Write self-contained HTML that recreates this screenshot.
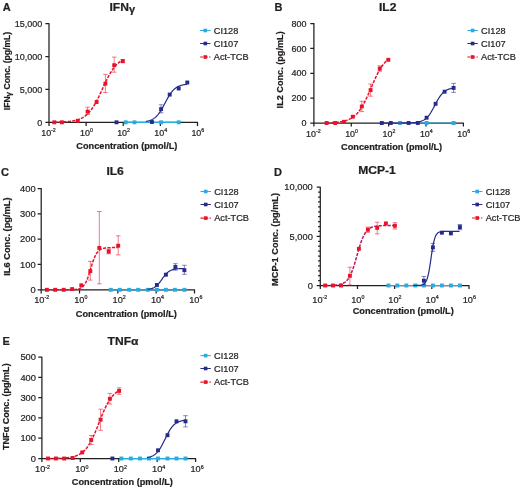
<!DOCTYPE html>
<html><head><meta charset="utf-8"><title>Figure</title>
<style>
html,body{margin:0;padding:0;background:#fff;}
svg{display:block;font-family:"Liberation Sans",sans-serif;fill:#231f20;}
text{stroke:#231f20;stroke-width:0.22px;}
</style></head><body>
<svg width="520" height="489" viewBox="0 0 520 489">
<rect width="520" height="489" fill="#fff"/>
<text x="2.80" y="11.00" font-size="11" text-anchor="start" font-weight="bold">A</text>
<text transform="translate(122.25,11.00) scale(1.07,1)" font-size="11.3" text-anchor="middle" font-weight="bold">IFN<tspan dy="1.6" font-size="10.3">γ</tspan></text>
<text x="42.30" y="125.50" font-size="9.0" text-anchor="end">0</text>
<text x="42.30" y="92.63" font-size="9.0" text-anchor="end">5,000</text>
<text x="42.30" y="59.77" font-size="9.0" text-anchor="end">10,000</text>
<text x="42.30" y="26.90" font-size="9.0" text-anchor="end">15,000</text>
<text x="48.50" y="136.00" font-size="8.9" text-anchor="middle">10<tspan font-size="5.3" dy="-3.7">-2</tspan></text>
<text x="86.42" y="136.00" font-size="8.9" text-anchor="middle">10<tspan font-size="5.3" dy="-3.7">0</tspan></text>
<text x="123.55" y="136.00" font-size="8.9" text-anchor="middle">10<tspan font-size="5.3" dy="-3.7">2</tspan></text>
<text x="160.68" y="136.00" font-size="8.9" text-anchor="middle">10<tspan font-size="5.3" dy="-3.7">4</tspan></text>
<text x="197.80" y="136.00" font-size="8.9" text-anchor="middle">10<tspan font-size="5.3" dy="-3.7">6</tspan></text>
<path d="M49.00,23.20V122.30H198.00M49.00,122.30h-3.6M49.00,89.43h-3.6M49.00,56.57h-3.6M49.00,23.70h-3.6M49.00,122.30v3.6M86.12,122.30v3.6M123.25,122.30v3.6M160.38,122.30v3.6M197.50,122.30v3.6" stroke="#231f20" stroke-width="1.25" fill="none"/>
<path d="M125.70,122.30 L178.70,122.30" stroke="#29abe2" stroke-width="1.2" fill="none"/>
<rect x="123.75" y="120.35" width="3.9" height="3.9" fill="#29abe2"/>
<rect x="132.55" y="120.35" width="3.9" height="3.9" fill="#29abe2"/>
<rect x="159.15" y="120.35" width="3.9" height="3.9" fill="#29abe2"/>
<rect x="176.75" y="120.35" width="3.9" height="3.9" fill="#29abe2"/>
<path d="M146.00,121.42 L146.50,121.33 L147.00,121.23 L147.50,121.12 L148.00,121.01 L148.50,120.88 L149.00,120.73 L149.50,120.58 L150.00,120.41 L150.50,120.22 L151.00,120.02 L151.50,119.80 L152.00,119.56 L152.50,119.30 L153.00,119.02 L153.50,118.71 L154.00,118.37 L154.50,118.01 L155.00,117.62 L155.50,117.20 L156.00,116.75 L156.50,116.26 L157.00,115.74 L157.50,115.19 L158.00,114.60 L158.50,113.97 L159.00,113.31 L159.50,112.62 L160.00,111.88 L160.50,111.12 L161.00,110.32 L161.50,109.49 L162.00,108.64 L162.50,107.76 L163.00,106.85 L163.50,105.93 L164.00,105.00 L164.50,104.06 L165.00,103.11 L165.50,102.16 L166.00,101.22 L166.50,100.29 L167.00,99.37 L167.50,98.46 L168.00,97.58 L168.50,96.72 L169.00,95.89 L169.50,95.09 L170.00,94.32 L170.50,93.59 L171.00,92.89 L171.50,92.23 L172.00,91.60 L172.50,91.00 L173.00,90.45 L173.50,89.93 L174.00,89.44 L174.50,88.98 L175.00,88.56 L175.50,88.17 L176.00,87.80 L176.50,87.47 L177.00,87.15 L177.50,86.87 L178.00,86.60 L178.50,86.36 L179.00,86.14 L179.50,85.94 L180.00,85.75 L180.50,85.58 L181.00,85.42 L181.50,85.28 L182.00,85.15 L182.50,85.03 L183.00,84.92 L183.50,84.82 L184.00,84.73 L184.50,84.65 L185.00,84.58 L185.50,84.51 L186.00,84.45 L186.50,84.39 L187.00,84.34" stroke="#262a8c" stroke-width="1.2" fill="none"/>
<path d="M161.10,104.80V112.80M158.80,104.80h4.6M158.80,112.80h4.6" stroke="#262a8c" stroke-width="0.75" stroke-opacity="0.75" fill="none"/>
<rect x="114.55" y="120.35" width="3.9" height="3.9" fill="#262a8c"/>
<rect x="149.95" y="120.05" width="3.9" height="3.9" fill="#262a8c"/>
<rect x="159.15" y="107.15" width="3.9" height="3.9" fill="#262a8c"/>
<rect x="167.75" y="92.65" width="3.9" height="3.9" fill="#262a8c"/>
<rect x="176.75" y="86.55" width="3.9" height="3.9" fill="#262a8c"/>
<rect x="185.35" y="80.55" width="3.9" height="3.9" fill="#262a8c"/>
<path d="M54.30,122.18 L54.80,122.17 L55.30,122.16 L55.80,122.15 L56.30,122.14 L56.80,122.13 L57.30,122.12 L57.80,122.10 L58.30,122.09 L58.80,122.08 L59.30,122.06 L59.80,122.05 L60.30,122.03 L60.80,122.01 L61.30,121.99 L61.80,121.97 L62.30,121.95 L62.80,121.92 L63.30,121.90 L63.80,121.87 L64.30,121.84 L64.80,121.81 L65.30,121.78 L65.80,121.75 L66.30,121.71 L66.80,121.67 L67.30,121.63 L67.80,121.58 L68.30,121.53 L68.80,121.48 L69.30,121.43 L69.80,121.37 L70.30,121.31 L70.80,121.24 L71.30,121.17 L71.80,121.10 L72.30,121.02 L72.80,120.93 L73.30,120.84 L73.80,120.75 L74.30,120.65 L74.80,120.54 L75.30,120.42 L75.80,120.30 L76.30,120.17 L76.80,120.03 L77.30,119.88 L77.80,119.73 L78.30,119.56 L78.80,119.38 L79.30,119.19 L79.80,119.00 L80.30,118.78 L80.80,118.56 L81.30,118.32 L81.80,118.07 L82.30,117.81 L82.80,117.53 L83.30,117.23 L83.80,116.91 L84.30,116.58 L84.80,116.23 L85.30,115.86 L85.80,115.47 L86.30,115.06 L86.80,114.63 L87.30,114.17 L87.80,113.70 L88.30,113.20 L88.80,112.67 L89.30,112.12 L89.80,111.54 L90.30,110.94 L90.80,110.31 L91.30,109.66 L91.80,108.98 L92.30,108.27 L92.80,107.53 L93.30,106.77 L93.80,105.98 L94.30,105.16 L94.80,104.31 L95.30,103.44 L95.80,102.55 L96.30,101.63 L96.80,100.68 L97.30,99.72 L97.80,98.73 L98.30,97.73 L98.80,96.71 L99.30,95.67 L99.80,94.62 L100.30,93.56 L100.80,92.48 L101.30,91.40 L101.80,90.32 L102.30,89.23 L102.80,88.14 L103.30,87.05 L103.80,85.97 L104.30,84.89 L104.80,83.82 L105.30,82.77 L105.80,81.72 L106.30,80.69 L106.80,79.67 L107.30,78.68 L107.80,77.70 L108.30,76.75 L108.80,75.81 L109.30,74.90 L109.80,74.02 L110.30,73.16 L110.80,72.32 L111.30,71.52 L111.80,70.74 L112.30,69.99 L112.80,69.26 L113.30,68.56 L113.80,67.89 L114.30,67.25 L114.80,66.63 L115.30,66.04 L115.80,65.47 L116.30,64.93 L116.80,64.42 L117.30,63.93 L117.80,63.46 L118.30,63.02 L118.80,62.59 L119.30,62.19 L119.80,61.81 L120.30,61.45 L120.80,61.11 L121.30,60.78 L121.80,60.47 L122.30,60.18 L122.80,59.91" stroke="#e8132b" stroke-width="1.5" fill="none" stroke-dasharray="3.2,1.3"/>
<path d="M87.60,107.20V114.50M85.30,107.20h4.6M85.30,114.50h4.6" stroke="#e8132b" stroke-width="0.75" stroke-opacity="0.75" fill="none"/>
<path d="M105.40,74.30V92.50M103.10,74.30h4.6M103.10,92.50h4.6" stroke="#e8132b" stroke-width="0.75" stroke-opacity="0.75" fill="none"/>
<path d="M114.20,57.10V72.20M111.90,57.10h4.6M111.90,72.20h4.6" stroke="#e8132b" stroke-width="0.75" stroke-opacity="0.75" fill="none"/>
<path d="M122.80,59.50V62.70M120.50,59.50h4.6M120.50,62.70h4.6" stroke="#e8132b" stroke-width="0.75" stroke-opacity="0.75" fill="none"/>
<rect x="52.35" y="120.35" width="3.9" height="3.9" fill="#e8132b"/>
<rect x="59.95" y="120.35" width="3.9" height="3.9" fill="#e8132b"/>
<rect x="75.85" y="118.85" width="3.9" height="3.9" fill="#e8132b"/>
<rect x="85.65" y="109.65" width="3.9" height="3.9" fill="#e8132b"/>
<rect x="94.65" y="100.05" width="3.9" height="3.9" fill="#e8132b"/>
<rect x="103.45" y="81.65" width="3.9" height="3.9" fill="#e8132b"/>
<rect x="112.25" y="63.25" width="3.9" height="3.9" fill="#e8132b"/>
<rect x="120.85" y="59.15" width="3.9" height="3.9" fill="#e8132b"/>
<text x="126.85" y="148.80" font-size="9.2" text-anchor="middle" font-weight="bold">Concentration (pmol/L)</text>
<text transform="translate(10.00,71.00) rotate(-90)" font-size="8.6" text-anchor="middle" font-weight="bold">IFN<tspan dy="1.2" font-size="8">γ</tspan><tspan dy="-1.2"> Conc. (pg/mL)</tspan></text>
<path d="M200.10,30.50h10.4" stroke="#29abe2" stroke-width="1.05"/>
<rect x="203.50" y="28.70" width="3.6" height="3.6" fill="#29abe2"/>
<text x="213.80" y="33.70" font-size="9.2" text-anchor="start">CI128</text>
<path d="M200.10,43.50h10.4" stroke="#262a8c" stroke-width="1.05"/>
<rect x="203.50" y="41.70" width="3.6" height="3.6" fill="#262a8c"/>
<text x="213.80" y="46.70" font-size="9.2" text-anchor="start">CI107</text>
<path d="M200.10,57.00h10.4" stroke="#e8132b" stroke-width="1.05" stroke-dasharray="3.2,1.3"/>
<rect x="203.50" y="55.20" width="3.6" height="3.6" fill="#e8132b"/>
<text x="213.80" y="60.20" font-size="9.2" text-anchor="start">Act-TCB</text>
<text x="274.40" y="11.00" font-size="11" text-anchor="start" font-weight="bold">B</text>
<text transform="translate(387.65,11.00) scale(1.07,1)" font-size="11.3" text-anchor="middle" font-weight="bold">IL2</text>
<text x="306.60" y="126.20" font-size="9.0" text-anchor="end">0</text>
<text x="306.60" y="101.33" font-size="9.0" text-anchor="end">200</text>
<text x="306.60" y="76.45" font-size="9.0" text-anchor="end">400</text>
<text x="306.60" y="51.58" font-size="9.0" text-anchor="end">600</text>
<text x="306.60" y="26.70" font-size="9.0" text-anchor="end">800</text>
<text x="313.40" y="136.70" font-size="8.9" text-anchor="middle">10<tspan font-size="5.3" dy="-3.7">-2</tspan></text>
<text x="351.57" y="136.70" font-size="8.9" text-anchor="middle">10<tspan font-size="5.3" dy="-3.7">0</tspan></text>
<text x="388.95" y="136.70" font-size="8.9" text-anchor="middle">10<tspan font-size="5.3" dy="-3.7">2</tspan></text>
<text x="426.32" y="136.70" font-size="8.9" text-anchor="middle">10<tspan font-size="5.3" dy="-3.7">4</tspan></text>
<text x="463.70" y="136.70" font-size="8.9" text-anchor="middle">10<tspan font-size="5.3" dy="-3.7">6</tspan></text>
<path d="M313.90,23.00V123.00H463.90M313.90,123.00h-3.6M313.90,98.12h-3.6M313.90,73.25h-3.6M313.90,48.38h-3.6M313.90,23.50h-3.6M313.90,123.00v3.6M351.27,123.00v3.6M388.65,123.00v3.6M426.02,123.00v3.6M463.40,123.00v3.6" stroke="#231f20" stroke-width="1.25" fill="none"/>
<path d="M400.00,123.00 L453.60,123.00" stroke="#29abe2" stroke-width="1.2" fill="none"/>
<rect x="398.05" y="121.05" width="3.9" height="3.9" fill="#29abe2"/>
<rect x="424.65" y="121.05" width="3.9" height="3.9" fill="#29abe2"/>
<rect x="451.65" y="121.05" width="3.9" height="3.9" fill="#29abe2"/>
<path d="M381.80,123.00 L382.30,123.00 L382.80,123.00 L383.30,123.00 L383.80,123.00 L384.30,123.00 L384.80,123.00 L385.30,123.00 L385.80,123.00 L386.30,123.00 L386.80,123.00 L387.30,123.00 L387.80,123.00 L388.30,123.00 L388.80,123.00 L389.30,123.00 L389.80,123.00 L390.30,123.00 L390.80,123.00 L391.30,123.00 L391.80,123.00 L392.30,123.00 L392.80,123.00 L393.30,123.00 L393.80,122.99 L394.30,122.99 L394.80,122.99 L395.30,122.99 L395.80,122.99 L396.30,122.99 L396.80,122.99 L397.30,122.99 L397.80,122.99 L398.30,122.99 L398.80,122.98 L399.30,122.98 L399.80,122.98 L400.30,122.98 L400.80,122.98 L401.30,122.97 L401.80,122.97 L402.30,122.97 L402.80,122.96 L403.30,122.96 L403.80,122.96 L404.30,122.95 L404.80,122.94 L405.30,122.94 L405.80,122.93 L406.30,122.92 L406.80,122.91 L407.30,122.91 L407.80,122.89 L408.30,122.88 L408.80,122.87 L409.30,122.85 L409.80,122.84 L410.30,122.82 L410.80,122.80 L411.30,122.78 L411.80,122.75 L412.30,122.72 L412.80,122.69 L413.30,122.66 L413.80,122.62 L414.30,122.58 L414.80,122.53 L415.30,122.48 L415.80,122.42 L416.30,122.36 L416.80,122.28 L417.30,122.21 L417.80,122.12 L418.30,122.02 L418.80,121.91 L419.30,121.79 L419.80,121.66 L420.30,121.52 L420.80,121.36 L421.30,121.18 L421.80,120.99 L422.30,120.77 L422.80,120.54 L423.30,120.28 L423.80,120.00 L424.30,119.69 L424.80,119.35 L425.30,118.99 L425.80,118.59 L426.30,118.15 L426.80,117.69 L427.30,117.18 L427.80,116.64 L428.30,116.06 L428.80,115.45 L429.30,114.79 L429.80,114.09 L430.30,113.35 L430.80,112.58 L431.30,111.77 L431.80,110.93 L432.30,110.06 L432.80,109.17 L433.30,108.25 L433.80,107.32 L434.30,106.37 L434.80,105.42 L435.30,104.47 L435.80,103.52 L436.30,102.58 L436.80,101.66 L437.30,100.75 L437.80,99.87 L438.30,99.02 L438.80,98.20 L439.30,97.42 L439.80,96.67 L440.30,95.95 L440.80,95.28 L441.30,94.65 L441.80,94.05 L442.30,93.50 L442.80,92.98 L443.30,92.50 L443.80,92.05 L444.30,91.64 L444.80,91.26 L445.30,90.91 L445.80,90.59 L446.30,90.30 L446.80,90.04 L447.30,89.79 L447.80,89.57 L448.30,89.37 L448.80,89.18 L449.30,89.02 L449.80,88.87 L450.30,88.73 L450.80,88.61 L451.30,88.50 L451.80,88.39 L452.30,88.30 L452.80,88.22 L453.30,88.15" stroke="#262a8c" stroke-width="1.2" fill="none"/>
<path d="M453.60,83.40V92.40M451.30,83.40h4.6M451.30,92.40h4.6" stroke="#262a8c" stroke-width="0.75" stroke-opacity="0.75" fill="none"/>
<rect x="379.85" y="121.05" width="3.9" height="3.9" fill="#262a8c"/>
<rect x="388.85" y="121.05" width="3.9" height="3.9" fill="#262a8c"/>
<rect x="406.65" y="121.05" width="3.9" height="3.9" fill="#262a8c"/>
<rect x="415.85" y="121.05" width="3.9" height="3.9" fill="#262a8c"/>
<rect x="424.65" y="115.75" width="3.9" height="3.9" fill="#262a8c"/>
<rect x="433.65" y="101.85" width="3.9" height="3.9" fill="#262a8c"/>
<rect x="442.65" y="89.75" width="3.9" height="3.9" fill="#262a8c"/>
<rect x="451.65" y="85.95" width="3.9" height="3.9" fill="#262a8c"/>
<path d="M326.60,122.81 L327.10,122.80 L327.60,122.78 L328.10,122.77 L328.60,122.75 L329.10,122.73 L329.60,122.71 L330.10,122.70 L330.60,122.67 L331.10,122.65 L331.60,122.63 L332.10,122.60 L332.60,122.58 L333.10,122.55 L333.60,122.52 L334.10,122.48 L334.60,122.45 L335.10,122.41 L335.60,122.37 L336.10,122.33 L336.60,122.28 L337.10,122.23 L337.60,122.18 L338.10,122.13 L338.60,122.07 L339.10,122.00 L339.60,121.94 L340.10,121.86 L340.60,121.79 L341.10,121.71 L341.60,121.62 L342.10,121.53 L342.60,121.43 L343.10,121.32 L343.60,121.21 L344.10,121.09 L344.60,120.96 L345.10,120.83 L345.60,120.69 L346.10,120.53 L346.60,120.37 L347.10,120.20 L347.60,120.01 L348.10,119.82 L348.60,119.61 L349.10,119.39 L349.60,119.15 L350.10,118.90 L350.60,118.64 L351.10,118.36 L351.60,118.07 L352.10,117.75 L352.60,117.42 L353.10,117.07 L353.60,116.70 L354.10,116.31 L354.60,115.90 L355.10,115.46 L355.60,115.01 L356.10,114.52 L356.60,114.02 L357.10,113.48 L357.60,112.92 L358.10,112.34 L358.60,111.73 L359.10,111.08 L359.60,110.41 L360.10,109.71 L360.60,108.98 L361.10,108.22 L361.60,107.44 L362.10,106.62 L362.60,105.77 L363.10,104.89 L363.60,103.99 L364.10,103.06 L364.60,102.10 L365.10,101.11 L365.60,100.10 L366.10,99.06 L366.60,98.01 L367.10,96.93 L367.60,95.84 L368.10,94.72 L368.60,93.60 L369.10,92.46 L369.60,91.31 L370.10,90.16 L370.60,89.00 L371.10,87.83 L371.60,86.67 L372.10,85.51 L372.60,84.36 L373.10,83.21 L373.60,82.08 L374.10,80.95 L374.60,79.85 L375.10,78.75 L375.60,77.68 L376.10,76.63 L376.60,75.60 L377.10,74.59 L377.60,73.61 L378.10,72.66 L378.60,71.73 L379.10,70.83 L379.60,69.96 L380.10,69.12 L380.60,68.31 L381.10,67.52 L381.60,66.77 L382.10,66.05 L382.60,65.35 L383.10,64.69 L383.60,64.05 L384.10,63.44 L384.60,62.86 L385.10,62.31 L385.60,61.78 L386.10,61.28 L386.60,60.80 L387.10,60.35 L387.60,59.92 L388.10,59.51" stroke="#e8132b" stroke-width="1.5" fill="none" stroke-dasharray="3.2,1.3"/>
<path d="M361.80,101.30V111.60M359.50,101.30h4.6M359.50,111.60h4.6" stroke="#e8132b" stroke-width="0.75" stroke-opacity="0.75" fill="none"/>
<path d="M370.60,84.00V96.20M368.30,84.00h4.6M368.30,96.20h4.6" stroke="#e8132b" stroke-width="0.75" stroke-opacity="0.75" fill="none"/>
<path d="M379.80,65.80V71.20M377.50,65.80h4.6M377.50,71.20h4.6" stroke="#e8132b" stroke-width="0.75" stroke-opacity="0.75" fill="none"/>
<rect x="324.65" y="121.05" width="3.9" height="3.9" fill="#e8132b"/>
<rect x="333.25" y="121.05" width="3.9" height="3.9" fill="#e8132b"/>
<rect x="342.05" y="119.85" width="3.9" height="3.9" fill="#e8132b"/>
<rect x="350.85" y="114.75" width="3.9" height="3.9" fill="#e8132b"/>
<rect x="359.85" y="104.55" width="3.9" height="3.9" fill="#e8132b"/>
<rect x="368.65" y="88.15" width="3.9" height="3.9" fill="#e8132b"/>
<rect x="377.85" y="66.65" width="3.9" height="3.9" fill="#e8132b"/>
<rect x="386.35" y="57.85" width="3.9" height="3.9" fill="#e8132b"/>
<text x="391.65" y="149.50" font-size="9.2" text-anchor="middle" font-weight="bold">Concentration (pmol/L)</text>
<text transform="translate(282.80,69.85) rotate(-90)" font-size="9.15" text-anchor="middle" font-weight="bold">IL2 Conc. (pg/mL)</text>
<path d="M467.40,30.50h10.4" stroke="#29abe2" stroke-width="1.05"/>
<rect x="470.80" y="28.70" width="3.6" height="3.6" fill="#29abe2"/>
<text x="481.10" y="33.70" font-size="9.2" text-anchor="start">CI128</text>
<path d="M467.40,43.50h10.4" stroke="#262a8c" stroke-width="1.05"/>
<rect x="470.80" y="41.70" width="3.6" height="3.6" fill="#262a8c"/>
<text x="481.10" y="46.70" font-size="9.2" text-anchor="start">CI107</text>
<path d="M467.40,57.00h10.4" stroke="#e8132b" stroke-width="1.05" stroke-dasharray="3.2,1.3"/>
<rect x="470.80" y="55.20" width="3.6" height="3.6" fill="#e8132b"/>
<text x="481.10" y="60.20" font-size="9.2" text-anchor="start">Act-TCB</text>
<text x="1.00" y="175.80" font-size="11" text-anchor="start" font-weight="bold">C</text>
<text transform="translate(115.10,175.00) scale(1.07,1)" font-size="11.3" text-anchor="middle" font-weight="bold">IL6</text>
<text x="35.60" y="293.00" font-size="9.3" text-anchor="end">0</text>
<text x="35.60" y="267.68" font-size="9.3" text-anchor="end">100</text>
<text x="35.60" y="242.35" font-size="9.3" text-anchor="end">200</text>
<text x="35.60" y="217.02" font-size="9.3" text-anchor="end">300</text>
<text x="35.60" y="191.70" font-size="9.3" text-anchor="end">400</text>
<text x="41.70" y="303.10" font-size="9.200000000000001" text-anchor="middle">10<tspan font-size="5.3" dy="-3.7">-2</tspan></text>
<text x="80.83" y="303.10" font-size="9.200000000000001" text-anchor="middle">10<tspan font-size="5.3" dy="-3.7">0</tspan></text>
<text x="119.15" y="303.10" font-size="9.200000000000001" text-anchor="middle">10<tspan font-size="5.3" dy="-3.7">2</tspan></text>
<text x="157.48" y="303.10" font-size="9.200000000000001" text-anchor="middle">10<tspan font-size="5.3" dy="-3.7">4</tspan></text>
<text x="195.80" y="303.10" font-size="9.200000000000001" text-anchor="middle">10<tspan font-size="5.3" dy="-3.7">6</tspan></text>
<path d="M41.20,188.00V289.80H195.00M41.20,289.80h-3.6M41.20,264.48h-3.6M41.20,239.15h-3.6M41.20,213.82h-3.6M41.20,188.50h-3.6M41.20,289.80v3.6M79.53,289.80v3.6M117.85,289.80v3.6M156.18,289.80v3.6M194.50,289.80v3.6" stroke="#231f20" stroke-width="1.25" fill="none"/>
<path d="M110.80,289.80 L184.40,289.80" stroke="#29abe2" stroke-width="1.2" fill="none"/>
<rect x="108.85" y="287.85" width="3.9" height="3.9" fill="#29abe2"/>
<rect x="117.85" y="287.85" width="3.9" height="3.9" fill="#29abe2"/>
<rect x="127.25" y="287.85" width="3.9" height="3.9" fill="#29abe2"/>
<rect x="136.25" y="287.85" width="3.9" height="3.9" fill="#29abe2"/>
<rect x="145.75" y="287.85" width="3.9" height="3.9" fill="#29abe2"/>
<rect x="154.95" y="287.85" width="3.9" height="3.9" fill="#29abe2"/>
<rect x="163.95" y="287.85" width="3.9" height="3.9" fill="#29abe2"/>
<rect x="172.95" y="287.85" width="3.9" height="3.9" fill="#29abe2"/>
<rect x="182.45" y="287.85" width="3.9" height="3.9" fill="#29abe2"/>
<path d="M147.70,289.33 L148.20,289.27 L148.70,289.19 L149.20,289.11 L149.70,289.02 L150.20,288.91 L150.70,288.79 L151.20,288.65 L151.70,288.50 L152.20,288.33 L152.70,288.14 L153.20,287.92 L153.70,287.68 L154.20,287.42 L154.70,287.12 L155.20,286.80 L155.70,286.44 L156.20,286.05 L156.70,285.62 L157.20,285.16 L157.70,284.66 L158.20,284.13 L158.70,283.56 L159.20,282.96 L159.70,282.33 L160.20,281.68 L160.70,281.00 L161.20,280.31 L161.70,279.61 L162.20,278.90 L162.70,278.20 L163.20,277.51 L163.70,276.82 L164.20,276.16 L164.70,275.52 L165.20,274.91 L165.70,274.34 L166.20,273.79 L166.70,273.28 L167.20,272.80 L167.70,272.37 L168.20,271.96 L168.70,271.59 L169.20,271.26 L169.70,270.95 L170.20,270.68 L170.70,270.43 L171.20,270.21 L171.70,270.01 L172.20,269.83 L172.70,269.67 L173.20,269.53 L173.70,269.40 L174.20,269.29 L174.70,269.19 L175.20,269.11 L175.70,269.03 L176.20,268.96 L176.70,268.90 L177.20,268.85 L177.70,268.81 L178.20,268.76 L178.70,268.73 L179.20,268.70 L179.70,268.67 L180.20,268.65 L180.70,268.62 L181.20,268.61 L181.70,268.59 L182.20,268.57 L182.70,268.56 L183.20,268.55 L183.70,268.54 L184.20,268.53" stroke="#262a8c" stroke-width="1.2" fill="none"/>
<path d="M175.40,263.70V270.20M173.10,263.70h4.6M173.10,270.20h4.6" stroke="#262a8c" stroke-width="0.75" stroke-opacity="0.75" fill="none"/>
<path d="M184.40,265.30V274.30M182.10,265.30h4.6M182.10,274.30h4.6" stroke="#262a8c" stroke-width="0.75" stroke-opacity="0.75" fill="none"/>
<rect x="154.95" y="283.05" width="3.9" height="3.9" fill="#262a8c"/>
<rect x="163.95" y="272.75" width="3.9" height="3.9" fill="#262a8c"/>
<rect x="173.45" y="265.05" width="3.9" height="3.9" fill="#262a8c"/>
<rect x="182.45" y="268.25" width="3.9" height="3.9" fill="#262a8c"/>
<path d="M46.90,289.80 L47.40,289.80 L47.90,289.80 L48.40,289.80 L48.90,289.80 L49.40,289.80 L49.90,289.80 L50.40,289.80 L50.90,289.80 L51.40,289.80 L51.90,289.80 L52.40,289.80 L52.90,289.80 L53.40,289.80 L53.90,289.80 L54.40,289.80 L54.90,289.80 L55.40,289.80 L55.90,289.80 L56.40,289.80 L56.90,289.80 L57.40,289.80 L57.90,289.80 L58.40,289.80 L58.90,289.80 L59.40,289.80 L59.90,289.80 L60.40,289.80 L60.90,289.80 L61.40,289.80 L61.90,289.79 L62.40,289.79 L62.90,289.79 L63.40,289.79 L63.90,289.79 L64.40,289.79 L64.90,289.79 L65.40,289.78 L65.90,289.78 L66.40,289.78 L66.90,289.78 L67.40,289.77 L67.90,289.77 L68.40,289.76 L68.90,289.75 L69.40,289.75 L69.90,289.74 L70.40,289.73 L70.90,289.71 L71.40,289.70 L71.90,289.68 L72.40,289.66 L72.90,289.64 L73.40,289.61 L73.90,289.58 L74.40,289.54 L74.90,289.50 L75.40,289.45 L75.90,289.39 L76.40,289.33 L76.90,289.25 L77.40,289.15 L77.90,289.05 L78.40,288.92 L78.90,288.78 L79.40,288.61 L79.90,288.42 L80.40,288.19 L80.90,287.93 L81.40,287.63 L81.90,287.29 L82.40,286.89 L82.90,286.44 L83.40,285.92 L83.90,285.33 L84.40,284.67 L84.90,283.92 L85.40,283.09 L85.90,282.16 L86.40,281.13 L86.90,280.01 L87.40,278.78 L87.90,277.47 L88.40,276.06 L88.90,274.57 L89.40,273.02 L89.90,271.42 L90.40,269.78 L90.90,268.14 L91.40,266.49 L91.90,264.88 L92.40,263.31 L92.90,261.80 L93.40,260.37 L93.90,259.02 L94.40,257.76 L94.90,256.60 L95.40,255.54 L95.90,254.58 L96.40,253.71 L96.90,252.94 L97.40,252.25 L97.90,251.63 L98.40,251.10 L98.90,250.62 L99.40,250.21 L99.90,249.85 L100.40,249.53 L100.90,249.26 L101.40,249.02 L101.90,248.82 L102.40,248.64 L102.90,248.49 L103.40,248.36 L103.90,248.25 L104.40,248.15 L104.90,248.07 L105.40,247.99 L105.90,247.93 L106.40,247.88 L106.90,247.83 L107.40,247.80 L107.90,247.76 L108.40,247.73 L108.90,247.71 L109.40,247.69 L109.90,247.67 L110.40,247.66 L110.90,247.64 L111.40,247.63 L111.90,247.62 L112.40,247.61 L112.90,247.61 L113.40,247.60 L113.90,247.60 L114.40,247.59 L114.90,247.59 L115.40,247.58 L115.90,247.58 L116.40,247.58 L116.90,247.58 L117.40,247.58 L117.90,247.57" stroke="#e8132b" stroke-width="1.5" fill="none" stroke-dasharray="3.2,1.3"/>
<path d="M90.30,261.40V280.10M88.00,261.40h4.6M88.00,280.10h4.6" stroke="#e8132b" stroke-width="0.75" stroke-opacity="0.75" fill="none"/>
<path d="M99.30,211.50V283.90M97.00,211.50h4.6M97.00,283.90h4.6" stroke="#e8132b" stroke-width="0.75" stroke-opacity="0.75" fill="none"/>
<path d="M108.70,249.30V253.80M106.40,249.30h4.6M106.40,253.80h4.6" stroke="#e8132b" stroke-width="0.75" stroke-opacity="0.75" fill="none"/>
<path d="M118.20,235.80V254.90M115.90,235.80h4.6M115.90,254.90h4.6" stroke="#e8132b" stroke-width="0.75" stroke-opacity="0.75" fill="none"/>
<rect x="44.95" y="287.85" width="3.9" height="3.9" fill="#e8132b"/>
<rect x="53.25" y="287.85" width="3.9" height="3.9" fill="#e8132b"/>
<rect x="61.75" y="287.85" width="3.9" height="3.9" fill="#e8132b"/>
<rect x="70.15" y="287.15" width="3.9" height="3.9" fill="#e8132b"/>
<rect x="79.35" y="283.35" width="3.9" height="3.9" fill="#e8132b"/>
<rect x="88.35" y="269.15" width="3.9" height="3.9" fill="#e8132b"/>
<rect x="97.35" y="245.95" width="3.9" height="3.9" fill="#e8132b"/>
<rect x="106.75" y="249.55" width="3.9" height="3.9" fill="#e8132b"/>
<rect x="116.25" y="243.75" width="3.9" height="3.9" fill="#e8132b"/>
<text x="126.35" y="316.90" font-size="9.2" text-anchor="middle" font-weight="bold">Concentration (pmol/L)</text>
<text transform="translate(9.80,236.55) rotate(-90)" font-size="9.29" text-anchor="middle" font-weight="bold">IL6 Conc. (pg/mL)</text>
<path d="M200.50,191.50h10.4" stroke="#29abe2" stroke-width="1.05"/>
<rect x="203.90" y="189.70" width="3.6" height="3.6" fill="#29abe2"/>
<text x="214.20" y="194.70" font-size="9.2" text-anchor="start">CI128</text>
<path d="M200.50,204.50h10.4" stroke="#262a8c" stroke-width="1.05"/>
<rect x="203.90" y="202.70" width="3.6" height="3.6" fill="#262a8c"/>
<text x="214.20" y="207.70" font-size="9.2" text-anchor="start">CI107</text>
<path d="M200.50,218.10h10.4" stroke="#e8132b" stroke-width="1.05" stroke-dasharray="3.2,1.3"/>
<rect x="203.90" y="216.30" width="3.6" height="3.6" fill="#e8132b"/>
<text x="214.20" y="221.30" font-size="9.2" text-anchor="start">Act-TCB</text>
<text x="273.90" y="176.20" font-size="11" text-anchor="start" font-weight="bold">D</text>
<text transform="translate(376.95,174.00) scale(1.07,1)" font-size="11.3" text-anchor="middle" font-weight="bold">MCP-1</text>
<text x="312.80" y="288.70" font-size="9.3" text-anchor="end">0</text>
<text x="312.80" y="239.55" font-size="9.3" text-anchor="end">5,000</text>
<text x="312.80" y="190.40" font-size="9.3" text-anchor="end">10,000</text>
<text x="319.80" y="302.50" font-size="9.200000000000001" text-anchor="middle">10<tspan font-size="5.3" dy="-3.7">-2</tspan></text>
<text x="357.78" y="302.50" font-size="9.200000000000001" text-anchor="middle">10<tspan font-size="5.3" dy="-3.7">0</tspan></text>
<text x="394.95" y="302.50" font-size="9.200000000000001" text-anchor="middle">10<tspan font-size="5.3" dy="-3.7">2</tspan></text>
<text x="432.12" y="302.50" font-size="9.200000000000001" text-anchor="middle">10<tspan font-size="5.3" dy="-3.7">4</tspan></text>
<text x="469.30" y="302.50" font-size="9.200000000000001" text-anchor="middle">10<tspan font-size="5.3" dy="-3.7">6</tspan></text>
<path d="M320.30,186.70V285.50H469.50M320.30,285.50h-3.6M320.30,236.35h-3.6M320.30,187.20h-3.6M320.30,285.50h-2.2M320.30,280.58h-2.2M320.30,275.67h-2.2M320.30,270.75h-2.2M320.30,265.84h-2.2M320.30,260.93h-2.2M320.30,256.01h-2.2M320.30,251.09h-2.2M320.30,246.18h-2.2M320.30,241.26h-2.2M320.30,236.35h-2.2M320.30,231.44h-2.2M320.30,226.52h-2.2M320.30,221.60h-2.2M320.30,216.69h-2.2M320.30,211.77h-2.2M320.30,206.86h-2.2M320.30,201.94h-2.2M320.30,197.03h-2.2M320.30,192.11h-2.2M320.30,187.20h-2.2M320.30,285.50v3.6M357.48,285.50v3.6M394.65,285.50v3.6M431.82,285.50v3.6M469.00,285.50v3.6" stroke="#231f20" stroke-width="1.25" fill="none"/>
<path d="M388.50,285.50 L459.90,285.50" stroke="#29abe2" stroke-width="1.2" fill="none"/>
<rect x="386.55" y="283.55" width="3.9" height="3.9" fill="#29abe2"/>
<rect x="395.35" y="283.55" width="3.9" height="3.9" fill="#29abe2"/>
<rect x="404.35" y="283.55" width="3.9" height="3.9" fill="#29abe2"/>
<rect x="413.35" y="283.55" width="3.9" height="3.9" fill="#29abe2"/>
<rect x="421.95" y="283.55" width="3.9" height="3.9" fill="#29abe2"/>
<rect x="430.95" y="283.55" width="3.9" height="3.9" fill="#29abe2"/>
<rect x="439.95" y="283.55" width="3.9" height="3.9" fill="#29abe2"/>
<rect x="448.95" y="283.55" width="3.9" height="3.9" fill="#29abe2"/>
<rect x="457.95" y="283.55" width="3.9" height="3.9" fill="#29abe2"/>
<path d="M413.00,285.49 L413.50,285.49 L414.00,285.49 L414.50,285.49 L415.00,285.48 L415.50,285.48 L416.00,285.47 L416.50,285.47 L417.00,285.45 L417.50,285.44 L418.00,285.43 L418.50,285.40 L419.00,285.38 L419.50,285.34 L420.00,285.29 L420.50,285.24 L421.00,285.16 L421.50,285.06 L422.00,284.94 L422.50,284.78 L423.00,284.57 L423.50,284.31 L424.00,283.98 L424.50,283.56 L425.00,283.02 L425.50,282.35 L426.00,281.51 L426.50,280.47 L427.00,279.19 L427.50,277.63 L428.00,275.77 L428.50,273.58 L429.00,271.06 L429.50,268.23 L430.00,265.12 L430.50,261.81 L431.00,258.40 L431.50,254.99 L432.00,251.68 L432.50,248.57 L433.00,245.74 L433.50,243.22 L434.00,241.03 L434.50,239.17 L435.00,237.61 L435.50,236.33 L436.00,235.29 L436.50,234.45 L437.00,233.78 L437.50,233.24 L438.00,232.82 L438.50,232.49 L439.00,232.23 L439.50,232.02 L440.00,231.86 L440.50,231.74 L441.00,231.64 L441.50,231.56 L442.00,231.51 L442.50,231.46 L443.00,231.42 L443.50,231.40 L444.00,231.37 L444.50,231.36 L445.00,231.35 L445.50,231.33 L446.00,231.33 L446.50,231.32 L447.00,231.32 L447.50,231.31 L448.00,231.31 L448.50,231.31 L449.00,231.31 L449.50,231.30 L450.00,231.30 L450.50,231.30 L451.00,231.30 L451.50,231.30 L452.00,231.30 L452.50,231.30 L453.00,231.30 L453.50,231.30 L454.00,231.30 L454.50,231.30 L455.00,231.30 L455.50,231.30 L456.00,231.30 L456.50,231.30 L457.00,231.30 L457.50,231.30 L458.00,231.30 L458.50,231.30 L459.00,231.30 L459.50,231.30" stroke="#262a8c" stroke-width="1.2" fill="none"/>
<path d="M423.90,276.50V284.90M421.60,276.50h4.6M421.60,284.90h4.6" stroke="#262a8c" stroke-width="0.75" stroke-opacity="0.75" fill="none"/>
<path d="M432.90,243.40V251.40M430.60,243.40h4.6M430.60,251.40h4.6" stroke="#262a8c" stroke-width="0.75" stroke-opacity="0.75" fill="none"/>
<path d="M459.90,224.50V229.70M457.60,224.50h4.6M457.60,229.70h4.6" stroke="#262a8c" stroke-width="0.75" stroke-opacity="0.75" fill="none"/>
<rect x="421.95" y="278.75" width="3.9" height="3.9" fill="#262a8c"/>
<rect x="430.95" y="245.45" width="3.9" height="3.9" fill="#262a8c"/>
<rect x="439.95" y="230.75" width="3.9" height="3.9" fill="#262a8c"/>
<rect x="448.95" y="231.45" width="3.9" height="3.9" fill="#262a8c"/>
<rect x="457.95" y="225.15" width="3.9" height="3.9" fill="#262a8c"/>
<path d="M325.20,285.47 L325.70,285.46 L326.20,285.46 L326.70,285.45 L327.20,285.45 L327.70,285.44 L328.20,285.43 L328.70,285.43 L329.20,285.42 L329.70,285.41 L330.20,285.39 L330.70,285.38 L331.20,285.37 L331.70,285.35 L332.20,285.33 L332.70,285.31 L333.20,285.29 L333.70,285.26 L334.20,285.23 L334.70,285.20 L335.20,285.16 L335.70,285.11 L336.20,285.07 L336.70,285.01 L337.20,284.95 L337.70,284.88 L338.20,284.81 L338.70,284.72 L339.20,284.62 L339.70,284.52 L340.20,284.39 L340.70,284.26 L341.20,284.11 L341.70,283.93 L342.20,283.74 L342.70,283.53 L343.20,283.29 L343.70,283.03 L344.20,282.73 L344.70,282.40 L345.20,282.03 L345.70,281.62 L346.20,281.17 L346.70,280.67 L347.20,280.12 L347.70,279.51 L348.20,278.84 L348.70,278.11 L349.20,277.31 L349.70,276.43 L350.20,275.49 L350.70,274.46 L351.20,273.35 L351.70,272.16 L352.20,270.90 L352.70,269.55 L353.20,268.13 L353.70,266.63 L354.20,265.06 L354.70,263.44 L355.20,261.77 L355.70,260.05 L356.20,258.30 L356.70,256.53 L357.20,254.76 L357.70,252.99 L358.20,251.23 L358.70,249.51 L359.20,247.83 L359.70,246.19 L360.20,244.62 L360.70,243.11 L361.20,241.67 L361.70,240.31 L362.20,239.03 L362.70,237.83 L363.20,236.71 L363.70,235.67 L364.20,234.71 L364.70,233.82 L365.20,233.01 L365.70,232.27 L366.20,231.59 L366.70,230.97 L367.20,230.41 L367.70,229.90 L368.20,229.44 L368.70,229.03 L369.20,228.65 L369.70,228.32 L370.20,228.01 L370.70,227.74 L371.20,227.50 L371.70,227.28 L372.20,227.09 L372.70,226.91 L373.20,226.76 L373.70,226.62 L374.20,226.50 L374.70,226.39 L375.20,226.29 L375.70,226.20 L376.20,226.12 L376.70,226.05 L377.20,225.99 L377.70,225.94 L378.20,225.89 L378.70,225.84 L379.20,225.80 L379.70,225.77 L380.20,225.74 L380.70,225.71 L381.20,225.69 L381.70,225.67 L382.20,225.65 L382.70,225.63 L383.20,225.61 L383.70,225.60 L384.20,225.59 L384.70,225.58 L385.20,225.57 L385.70,225.56 L386.20,225.55 L386.70,225.55 L387.20,225.54 L387.70,225.53 L388.20,225.53 L388.70,225.53 L389.20,225.52 L389.70,225.52 L390.20,225.52 L390.70,225.51 L391.20,225.51 L391.70,225.51 L392.20,225.51 L392.70,225.51 L393.20,225.50 L393.70,225.50 L394.20,225.50 L394.70,225.50" stroke="#c2155e" stroke-width="1.5" fill="none" stroke-dasharray="3.2,1.3"/>
<path d="M349.90,267.20V285.00M347.60,267.20h4.6M347.60,285.00h4.6" stroke="#e8132b" stroke-width="0.75" stroke-opacity="0.75" fill="none"/>
<path d="M367.90,227.10V232.30M365.60,227.10h4.6M365.60,232.30h4.6" stroke="#e8132b" stroke-width="0.75" stroke-opacity="0.75" fill="none"/>
<path d="M377.20,222.20V233.90M374.90,222.20h4.6M374.90,233.90h4.6" stroke="#e8132b" stroke-width="0.75" stroke-opacity="0.75" fill="none"/>
<path d="M394.90,222.70V229.00M392.60,222.70h4.6M392.60,229.00h4.6" stroke="#e8132b" stroke-width="0.75" stroke-opacity="0.75" fill="none"/>
<rect x="323.25" y="283.55" width="3.9" height="3.9" fill="#e8132b"/>
<rect x="331.05" y="283.55" width="3.9" height="3.9" fill="#e8132b"/>
<rect x="339.05" y="283.55" width="3.9" height="3.9" fill="#e8132b"/>
<rect x="347.95" y="273.85" width="3.9" height="3.9" fill="#e8132b"/>
<rect x="356.95" y="246.85" width="3.9" height="3.9" fill="#e8132b"/>
<rect x="365.95" y="227.75" width="3.9" height="3.9" fill="#e8132b"/>
<rect x="375.25" y="225.95" width="3.9" height="3.9" fill="#e8132b"/>
<rect x="383.95" y="221.45" width="3.9" height="3.9" fill="#e8132b"/>
<rect x="392.95" y="223.85" width="3.9" height="3.9" fill="#e8132b"/>
<text x="403.25" y="314.40" font-size="9.2" text-anchor="middle" font-weight="bold">Concentration (pmol/L)</text>
<text transform="translate(278.40,239.45) rotate(-90)" font-size="9.2" text-anchor="middle" font-weight="bold">MCP-1 Conc. (pg/mL)</text>
<path d="M472.00,191.50h10.4" stroke="#29abe2" stroke-width="1.05"/>
<rect x="475.40" y="189.70" width="3.6" height="3.6" fill="#29abe2"/>
<text x="485.70" y="194.70" font-size="9.2" text-anchor="start">CI128</text>
<path d="M472.00,204.50h10.4" stroke="#262a8c" stroke-width="1.05"/>
<rect x="475.40" y="202.70" width="3.6" height="3.6" fill="#262a8c"/>
<text x="485.70" y="207.70" font-size="9.2" text-anchor="start">CI107</text>
<path d="M472.00,218.00h10.4" stroke="#e8132b" stroke-width="1.05" stroke-dasharray="3.2,1.3"/>
<rect x="475.40" y="216.20" width="3.6" height="3.6" fill="#e8132b"/>
<text x="485.70" y="221.20" font-size="9.2" text-anchor="start">Act-TCB</text>
<text x="2.40" y="345.20" font-size="11" text-anchor="start" font-weight="bold">E</text>
<text transform="translate(123.05,345.20) scale(1.07,1)" font-size="11.3" text-anchor="middle" font-weight="bold">TNFα</text>
<text x="35.90" y="461.70" font-size="9.3" text-anchor="end">0</text>
<text x="35.90" y="441.44" font-size="9.3" text-anchor="end">100</text>
<text x="35.90" y="421.18" font-size="9.3" text-anchor="end">200</text>
<text x="35.90" y="400.92" font-size="9.3" text-anchor="end">300</text>
<text x="35.90" y="380.66" font-size="9.3" text-anchor="end">400</text>
<text x="35.90" y="360.40" font-size="9.3" text-anchor="end">500</text>
<text x="42.60" y="472.20" font-size="9.200000000000001" text-anchor="middle">10<tspan font-size="5.3" dy="-3.7">-2</tspan></text>
<text x="81.82" y="472.20" font-size="9.200000000000001" text-anchor="middle">10<tspan font-size="5.3" dy="-3.7">0</tspan></text>
<text x="120.25" y="472.20" font-size="9.200000000000001" text-anchor="middle">10<tspan font-size="5.3" dy="-3.7">2</tspan></text>
<text x="158.67" y="472.20" font-size="9.200000000000001" text-anchor="middle">10<tspan font-size="5.3" dy="-3.7">4</tspan></text>
<text x="197.10" y="472.20" font-size="9.200000000000001" text-anchor="middle">10<tspan font-size="5.3" dy="-3.7">6</tspan></text>
<path d="M41.90,356.70V458.50H196.10M41.90,458.50h-3.6M41.90,438.24h-3.6M41.90,417.98h-3.6M41.90,397.72h-3.6M41.90,377.46h-3.6M41.90,357.20h-3.6M41.90,458.50v3.6M80.32,458.50v3.6M118.75,458.50v3.6M157.17,458.50v3.6M195.60,458.50v3.6" stroke="#231f20" stroke-width="1.25" fill="none"/>
<path d="M121.40,458.50 L185.50,458.50" stroke="#29abe2" stroke-width="1.2" fill="none"/>
<rect x="119.45" y="456.55" width="3.9" height="3.9" fill="#29abe2"/>
<rect x="128.85" y="456.55" width="3.9" height="3.9" fill="#29abe2"/>
<rect x="138.05" y="456.55" width="3.9" height="3.9" fill="#29abe2"/>
<rect x="147.05" y="456.55" width="3.9" height="3.9" fill="#29abe2"/>
<rect x="156.05" y="456.55" width="3.9" height="3.9" fill="#29abe2"/>
<rect x="165.55" y="456.55" width="3.9" height="3.9" fill="#29abe2"/>
<rect x="174.55" y="456.55" width="3.9" height="3.9" fill="#29abe2"/>
<rect x="183.55" y="456.55" width="3.9" height="3.9" fill="#29abe2"/>
<path d="M147.00,457.68 L147.50,457.59 L148.00,457.49 L148.50,457.38 L149.00,457.26 L149.50,457.12 L150.00,456.97 L150.50,456.81 L151.00,456.63 L151.50,456.43 L152.00,456.22 L152.50,455.98 L153.00,455.71 L153.50,455.43 L154.00,455.11 L154.50,454.77 L155.00,454.40 L155.50,453.99 L156.00,453.55 L156.50,453.07 L157.00,452.56 L157.50,452.00 L158.00,451.41 L158.50,450.78 L159.00,450.10 L159.50,449.38 L160.00,448.62 L160.50,447.82 L161.00,446.98 L161.50,446.10 L162.00,445.19 L162.50,444.25 L163.00,443.28 L163.50,442.29 L164.00,441.28 L164.50,440.26 L165.00,439.23 L165.50,438.20 L166.00,437.18 L166.50,436.17 L167.00,435.18 L167.50,434.20 L168.00,433.26 L168.50,432.34 L169.00,431.46 L169.50,430.61 L170.00,429.80 L170.50,429.03 L171.00,428.31 L171.50,427.62 L172.00,426.98 L172.50,426.38 L173.00,425.82 L173.50,425.29 L174.00,424.81 L174.50,424.36 L175.00,423.95 L175.50,423.57 L176.00,423.22 L176.50,422.90 L177.00,422.61 L177.50,422.35 L178.00,422.10 L178.50,421.88 L179.00,421.68 L179.50,421.50 L180.00,421.33 L180.50,421.18 L181.00,421.04 L181.50,420.92 L182.00,420.81 L182.50,420.71 L183.00,420.61 L183.50,420.53 L184.00,420.46 L184.50,420.39 L185.00,420.33 L185.50,420.27" stroke="#262a8c" stroke-width="1.2" fill="none"/>
<path d="M185.50,415.70V426.90M183.20,415.70h4.6M183.20,426.90h4.6" stroke="#262a8c" stroke-width="0.75" stroke-opacity="0.75" fill="none"/>
<rect x="110.45" y="456.55" width="3.9" height="3.9" fill="#262a8c"/>
<rect x="156.05" y="448.35" width="3.9" height="3.9" fill="#262a8c"/>
<rect x="165.55" y="433.25" width="3.9" height="3.9" fill="#262a8c"/>
<rect x="174.55" y="419.35" width="3.9" height="3.9" fill="#262a8c"/>
<rect x="183.55" y="419.35" width="3.9" height="3.9" fill="#262a8c"/>
<path d="M48.00,458.45 L48.50,458.44 L49.00,458.44 L49.50,458.44 L50.00,458.43 L50.50,458.43 L51.00,458.42 L51.50,458.41 L52.00,458.41 L52.50,458.40 L53.00,458.39 L53.50,458.39 L54.00,458.38 L54.50,458.37 L55.00,458.36 L55.50,458.35 L56.00,458.34 L56.50,458.33 L57.00,458.31 L57.50,458.30 L58.00,458.29 L58.50,458.27 L59.00,458.25 L59.50,458.24 L60.00,458.22 L60.50,458.20 L61.00,458.17 L61.50,458.15 L62.00,458.12 L62.50,458.10 L63.00,458.07 L63.50,458.04 L64.00,458.00 L64.50,457.97 L65.00,457.93 L65.50,457.89 L66.00,457.84 L66.50,457.79 L67.00,457.74 L67.50,457.69 L68.00,457.63 L68.50,457.56 L69.00,457.50 L69.50,457.42 L70.00,457.35 L70.50,457.26 L71.00,457.18 L71.50,457.08 L72.00,456.98 L72.50,456.87 L73.00,456.75 L73.50,456.63 L74.00,456.50 L74.50,456.35 L75.00,456.20 L75.50,456.04 L76.00,455.87 L76.50,455.68 L77.00,455.48 L77.50,455.27 L78.00,455.05 L78.50,454.81 L79.00,454.55 L79.50,454.28 L80.00,453.99 L80.50,453.68 L81.00,453.35 L81.50,453.01 L82.00,452.64 L82.50,452.24 L83.00,451.83 L83.50,451.39 L84.00,450.92 L84.50,450.43 L85.00,449.91 L85.50,449.36 L86.00,448.78 L86.50,448.17 L87.00,447.53 L87.50,446.86 L88.00,446.15 L88.50,445.41 L89.00,444.64 L89.50,443.83 L90.00,442.99 L90.50,442.11 L91.00,441.20 L91.50,440.26 L92.00,439.28 L92.50,438.27 L93.00,437.22 L93.50,436.15 L94.00,435.05 L94.50,433.92 L95.00,432.76 L95.50,431.58 L96.00,430.38 L96.50,429.16 L97.00,427.93 L97.50,426.68 L98.00,425.42 L98.50,424.16 L99.00,422.89 L99.50,421.62 L100.00,420.35 L100.50,419.09 L101.00,417.83 L101.50,416.59 L102.00,415.36 L102.50,414.15 L103.00,412.96 L103.50,411.79 L104.00,410.65 L104.50,409.53 L105.00,408.44 L105.50,407.38 L106.00,406.35 L106.50,405.36 L107.00,404.39 L107.50,403.46 L108.00,402.57 L108.50,401.71 L109.00,400.88 L109.50,400.09 L110.00,399.33 L110.50,398.61 L111.00,397.91 L111.50,397.26 L112.00,396.63 L112.50,396.04 L113.00,395.47 L113.50,394.93 L114.00,394.43 L114.50,393.95 L115.00,393.49 L115.50,393.06 L116.00,392.66 L116.50,392.28 L117.00,391.92 L117.50,391.58 L118.00,391.26 L118.50,390.96 L119.00,390.68" stroke="#e8132b" stroke-width="1.5" fill="none" stroke-dasharray="3.2,1.3"/>
<path d="M91.20,435.50V444.50M88.90,435.50h4.6M88.90,444.50h4.6" stroke="#e8132b" stroke-width="0.75" stroke-opacity="0.75" fill="none"/>
<path d="M100.60,409.20V430.30M98.30,409.20h4.6M98.30,430.30h4.6" stroke="#e8132b" stroke-width="0.75" stroke-opacity="0.75" fill="none"/>
<path d="M109.90,393.40V404.00M107.60,393.40h4.6M107.60,404.00h4.6" stroke="#e8132b" stroke-width="0.75" stroke-opacity="0.75" fill="none"/>
<path d="M119.10,387.80V394.30M116.80,387.80h4.6M116.80,394.30h4.6" stroke="#e8132b" stroke-width="0.75" stroke-opacity="0.75" fill="none"/>
<rect x="46.05" y="456.55" width="3.9" height="3.9" fill="#e8132b"/>
<rect x="53.95" y="456.55" width="3.9" height="3.9" fill="#e8132b"/>
<rect x="62.25" y="456.55" width="3.9" height="3.9" fill="#e8132b"/>
<rect x="70.75" y="456.05" width="3.9" height="3.9" fill="#e8132b"/>
<rect x="80.25" y="450.45" width="3.9" height="3.9" fill="#e8132b"/>
<rect x="89.25" y="438.05" width="3.9" height="3.9" fill="#e8132b"/>
<rect x="98.65" y="417.75" width="3.9" height="3.9" fill="#e8132b"/>
<rect x="107.95" y="396.85" width="3.9" height="3.9" fill="#e8132b"/>
<rect x="117.15" y="388.95" width="3.9" height="3.9" fill="#e8132b"/>
<text x="122.35" y="485.00" font-size="9.2" text-anchor="middle" font-weight="bold">Concentration (pmol/L)</text>
<text transform="translate(9.30,406.65) rotate(-90)" font-size="9.07" text-anchor="middle" font-weight="bold">TNFα Conc. (pg/mL)</text>
<path d="M200.40,355.60h10.4" stroke="#29abe2" stroke-width="1.05"/>
<rect x="203.80" y="353.80" width="3.6" height="3.6" fill="#29abe2"/>
<text x="214.10" y="358.80" font-size="9.2" text-anchor="start">CI128</text>
<path d="M200.40,368.50h10.4" stroke="#262a8c" stroke-width="1.05"/>
<rect x="203.80" y="366.70" width="3.6" height="3.6" fill="#262a8c"/>
<text x="214.10" y="371.70" font-size="9.2" text-anchor="start">CI107</text>
<path d="M200.40,382.10h10.4" stroke="#e8132b" stroke-width="1.05" stroke-dasharray="3.2,1.3"/>
<rect x="203.80" y="380.30" width="3.6" height="3.6" fill="#e8132b"/>
<text x="214.10" y="385.30" font-size="9.2" text-anchor="start">Act-TCB</text>
</svg>
</body></html>
